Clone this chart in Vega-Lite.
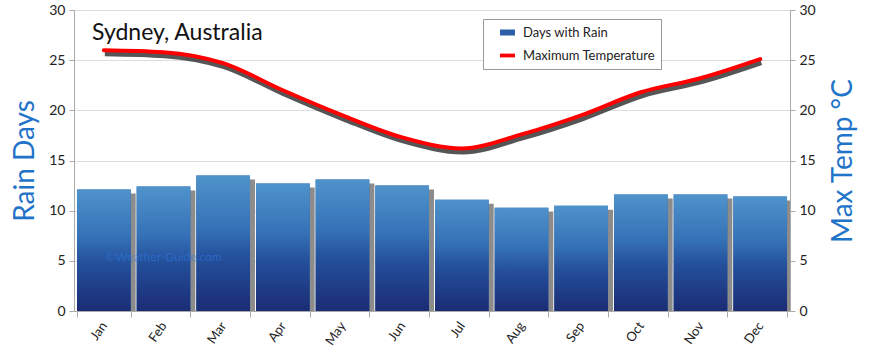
{
  "$schema": "https://vega.github.io/schema/vega-lite/v6.json",
  "width": 716,
  "height": 301,
  "autosize": {"type": "none"},
  "padding": {"left": 74, "top": 10, "right": 80, "bottom": 41},
  "background": "white",
  "config": {"view": {"stroke": null}, "font": "Lato"},
  "title": {"text": "Sydney, Australia", "anchor": "start", "frame": "group", "orient": "top", "offset": -42, "dx": 18, "fontSize": 23, "font": "Lato", "fontWeight": "normal", "color": "#111111"},
  "data": {"values": [
    {"month": "Jan", "rain": 12.1, "temp": 26.0},
    {"month": "Feb", "rain": 12.4, "temp": 25.8},
    {"month": "Mar", "rain": 13.5, "temp": 24.7},
    {"month": "Apr", "rain": 12.7, "temp": 22.0},
    {"month": "May", "rain": 13.1, "temp": 19.5},
    {"month": "Jun", "rain": 12.5, "temp": 17.3},
    {"month": "Jul", "rain": 11.1, "temp": 16.2},
    {"month": "Aug", "rain": 10.3, "temp": 17.6},
    {"month": "Sep", "rain": 10.5, "temp": 19.5},
    {"month": "Oct", "rain": 11.6, "temp": 21.8},
    {"month": "Nov", "rain": 11.6, "temp": 23.2},
    {"month": "Dec", "rain": 11.4, "temp": 25.1}
  ]},
  "encoding": {
    "x": {
      "field": "month", "type": "nominal", "sort": null,
      "scale": {"domain": ["Jan","Feb","Mar","Apr","May","Jun","Jul","Aug","Sep","Oct","Nov","Dec"], "paddingInner": 0.1, "paddingOuter": 0.05},
      "axis": {"title": null, "labelAngle": -55, "labelAlign": "right", "labelBaseline": "middle", "labelPadding": 6, "labelFontSize": 13, "labelColor": "#222", "tickBand": "extent", "tickSize": 6, "tickColor": "#aaaaaa", "domainColor": "#aaaaaa", "grid": false}
    }
  },
  "layer": [
    {
      "encoding": {
        "y": {"field": "rain", "type": "quantitative", "scale": {"domain": [0, 30]},
          "axis": {"orient": "left", "values": [0,5,10,15,20,25,30], "title": "Rain Days", "titleFontSize": 28, "titleFontWeight": "normal", "titleColor": "#1f73c8", "titlePadding": 9, "labelFontSize": 14, "labelColor": "#222", "labelPadding": 4, "tickSize": 5, "tickColor": "#aaaaaa", "domainColor": "#aaaaaa", "grid": true, "gridColor": "#dddddd"}}
      },
      "layer": [
        {"mark": {"type": "bar", "color": "#8c8c8c", "xOffset": 5, "x2Offset": 5, "yOffset": 4, "clip": true}},
        {"mark": {"type": "bar"}, "encoding": {"color": {"datum": "Days with Rain", "type": "nominal",
          "scale": {"domain": ["Days with Rain", "Maximum Temperature"], "range": ["#2d5fa8", "#ff0000"]},
          "legend": {"title": null, "orient": "none", "legendX": 409, "legendY": 9, "padding": 6, "symbolOffset": 11, "strokeColor": "#999999", "fillColor": "white", "labelFontSize": 13, "labelColor": "#222", "labelOffset": 8, "symbolSize": 225, "rowPadding": 8,
            "encode": {"symbols": {"update": {
              "shape": {"signal": "datum.value === 'Days with Rain' ? 'M-1,-0.4H1V0.4H-1Z' : 'M-1,-0.25H1V0.25H-1Z'"},
              "fill": {"scale": "color", "field": "value"},
              "strokeWidth": {"value": 0},
              "opacity": {"value": 1},
              "fillOpacity": {"value": 1}
            }}}}}}},
        {"mark": {"type": "bar", "color": {"gradient": "linear", "x1": 0, "y1": 0, "x2": 0, "y2": 1, "stops": [
          {"offset": 0, "color": "#4f93cb"},
          {"offset": 0.4, "color": "#3470b6"},
          {"offset": 0.6, "color": "#24509c"},
          {"offset": 1, "color": "#1b2c74"}]}}},
        {"data": {"values": [{"month": "Feb", "rain": 5.4, "label": "©Weather-Guide.com"}]},
          "mark": {"type": "text", "color": "#2f7be0", "opacity": 0.55, "fontSize": 12},
          "encoding": {"text": {"field": "label"}}}
      ]
    },
    {
      "encoding": {
        "y": {"field": "temp", "type": "quantitative", "scale": {"domain": [0, 30]},
          "axis": {"orient": "right", "values": [0,5,10,15,20,25,30], "title": "Max Temp °C", "titleAngle": 270, "titleBaseline": "top", "titleFontSize": 28, "titleFontWeight": "normal", "titleColor": "#1f73c8", "titlePadding": 14, "labelFontSize": 14, "labelColor": "#222", "labelPadding": 4, "tickSize": 5, "tickColor": "#aaaaaa", "domainColor": "#aaaaaa", "grid": false}}
      },
      "layer": [
        {"mark": {"type": "line", "interpolate": "monotone", "color": "#2a2a2a", "opacity": 0.8, "strokeWidth": 6, "yOffset": 3, "xOffset": 1}},
        {"mark": {"type": "line", "interpolate": "monotone", "strokeWidth": 4, "strokeCap": "round"},
          "encoding": {"color": {"datum": "Maximum Temperature", "type": "nominal"}}}
      ]
    }
  ],
  "resolve": {"scale": {"y": "independent"}}
}
